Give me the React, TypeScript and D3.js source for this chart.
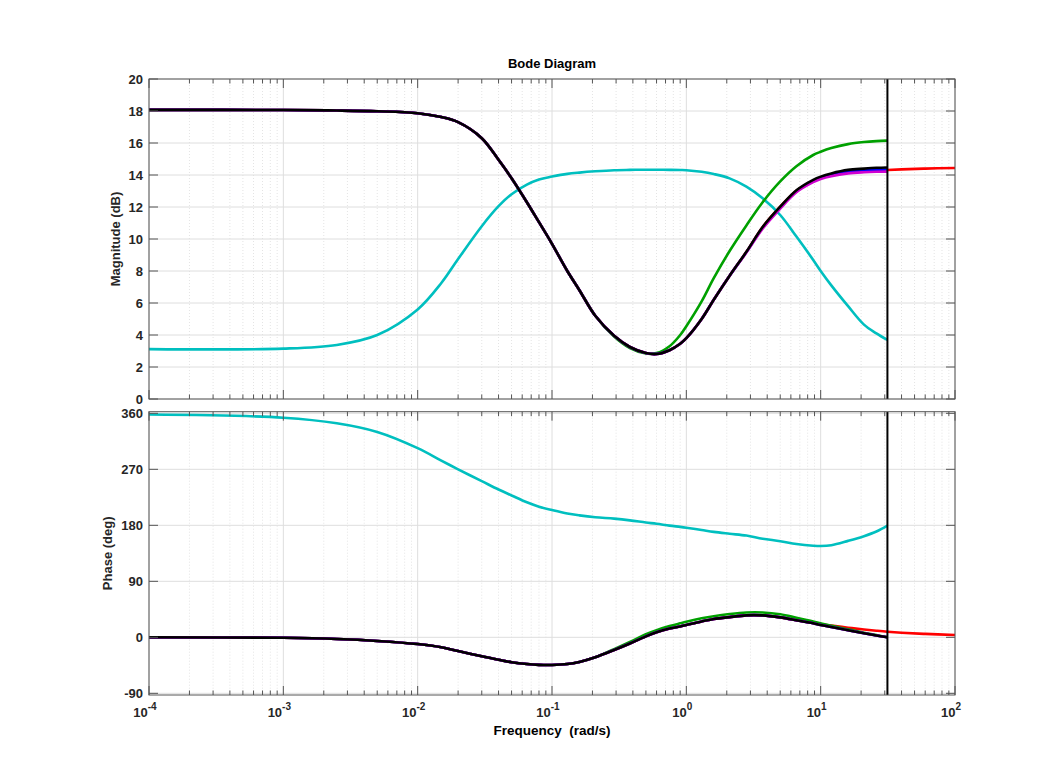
import React from "react";
import * as d3 from "d3";

// frequency grid (rad/s) of the sampled models, stops at the Nyquist frequency
const freqs = [
  1e-4, 1e-3, 0.0025, 0.005, 0.01, 0.015, 0.02, 0.03, 0.04, 0.05, 0.065, 0.08,
  0.1, 0.13, 0.16, 0.21, 0.29, 0.38, 0.5, 0.6, 0.75, 0.9, 1, 1.3, 1.6, 2.1, 2.8,
  3.7, 5, 6.6, 8.8, 10, 12, 16, 21, 26, 31.4,
];
// continuous model keeps going to 100 rad/s
const freqsCont = [
  1e-4, 1e-3, 0.0025, 0.005, 0.01, 0.015, 0.02, 0.03, 0.04, 0.05, 0.065, 0.08,
  0.1, 0.13, 0.16, 0.21, 0.29, 0.38, 0.5, 0.6, 0.75, 0.9, 1, 1.3, 1.6, 2.1, 2.8,
  3.7, 5, 6.6, 8.8, 10, 12, 16, 21, 26, 31.4, 40, 60, 100,
];

// magnitude (dB)
const magBlack = [
  18.07, 18.06, 18.03, 17.98, 17.86, 17.62, 17.3, 16.3, 14.95, 13.8, 12.3, 11.05,
  9.7, 8.0, 6.8, 5.2, 3.95, 3.25, 2.87, 2.81, 3.05, 3.45, 3.8, 5.0, 6.2, 7.7,
  9.2, 10.75, 12.02, 13.05, 13.7, 13.9, 14.1, 14.32, 14.4, 14.45, 14.47,
];
const magGreen = [
  18.07, 18.06, 18.03, 17.98, 17.86, 17.62, 17.3, 16.3, 14.95, 13.8, 12.3, 11.05,
  9.7, 8.0, 6.8, 5.2, 3.9, 3.18, 2.84, 2.87, 3.3, 4.0, 4.55, 6.1, 7.55, 9.25,
  10.85, 12.3, 13.6, 14.55, 15.25, 15.45, 15.68, 15.93, 16.06, 16.12, 16.15,
];
const magBlue = [
  18.07, 18.06, 18.03, 17.98, 17.86, 17.62, 17.3, 16.3, 14.95, 13.8, 12.3, 11.05,
  9.7, 8.0, 6.8, 5.2, 3.95, 3.25, 2.87, 2.81, 3.05, 3.45, 3.8, 5.0, 6.2, 7.7,
  9.18, 10.7, 11.96, 12.98, 13.62, 13.82, 14.0, 14.2, 14.28, 14.32, 14.34,
];
const magMagenta = [
  18.07, 18.06, 18.03, 17.98, 17.86, 17.62, 17.3, 16.3, 14.95, 13.8, 12.3, 11.05,
  9.7, 8.0, 6.8, 5.2, 3.95, 3.25, 2.87, 2.81, 3.05, 3.45, 3.8, 5.0, 6.2, 7.7,
  9.15, 10.65, 11.9, 12.92, 13.55, 13.75, 13.93, 14.1, 14.17, 14.2, 14.21,
];
const magCyan = [
  3.12, 3.15, 3.38, 4.0, 5.6, 7.25, 8.75, 10.8, 12.05, 12.8, 13.4, 13.72, 13.9,
  14.07, 14.15, 14.23, 14.3, 14.32, 14.33, 14.33, 14.32, 14.31, 14.3, 14.2, 14.06,
  13.79, 13.27, 12.54, 11.5, 10.15, 8.69, 8.0, 7.1, 5.8, 4.65, 4.1, 3.69,
];
const magRed = [
  18.07, 18.06, 18.03, 17.98, 17.86, 17.62, 17.3, 16.3, 14.95, 13.8, 12.3, 11.05,
  9.7, 8.0, 6.8, 5.2, 3.95, 3.25, 2.87, 2.81, 3.05, 3.45, 3.8, 5.0, 6.2, 7.7,
  9.2, 10.75, 12.02, 13.02, 13.62, 13.82, 13.98, 14.14, 14.23, 14.28, 14.31,
  14.35, 14.4, 14.44,
];

// phase (deg)
const phBlack = [
  0, -0.8, -2.7, -5.8, -10.8, -16, -22, -30.5, -36, -40, -43, -44.3, -44.5, -43,
  -39.5, -32, -20.4, -10, 1.5, 8, 14, 17.5, 19.8, 25.5, 29.3, 32.5, 35.3, 35.2,
  32, 27.5, 22.5, 19.8, 16.5, 11.3, 6.5, 3, 0,
];
const phGreen = [
  0, -0.8, -2.7, -5.8, -10.8, -16, -22, -30.5, -36, -40, -43, -44.3, -44.5, -43,
  -39.5, -32, -19, -7.5, 5, 11.5, 18, 22.5, 25, 30.5, 34, 37.5, 40, 40, 37, 31.5,
  25.5, 22.5, 18.5, 13, 7.5, 3.5, 0,
];
const phBlue = [
  0, -0.8, -2.7, -5.8, -10.8, -16, -22, -30.5, -36, -40, -43, -44.3, -44.5, -43,
  -39.5, -32, -20.4, -10, 1.5, 8, 14, 17.5, 19.8, 25.5, 29.3, 32.5, 35.3, 35.2,
  32, 27.5, 22.5, 19.8, 16.5, 11.3, 6.5, 3, 0,
];
const phMagenta = [
  0, -0.8, -2.7, -5.8, -10.8, -16, -22, -30.5, -36, -40, -43, -44.3, -44.5, -43,
  -39.5, -32, -20.4, -10, 1.5, 8, 14, 17.5, 19.8, 25.5, 29.3, 32.5, 35.3, 35.2,
  32, 27.5, 22.5, 19.8, 16.5, 11.3, 6.5, 3, 0,
];
const phCyan = [
  358, 353, 344, 330, 304, 284, 270, 251, 237.5, 228, 217, 210, 204.6, 199, 196,
  193, 190.7, 188, 184.5, 182.5, 179.5, 177.5, 176.2, 172.5, 169.5, 166.5, 163.5,
  158.5, 154.5, 150, 147.2, 146.7, 148, 155, 162.5, 170, 179.4,
];
const phRed = [
  0, -0.8, -2.7, -5.8, -10.8, -16, -22, -30.5, -36, -40, -43, -44.3, -44.5, -43,
  -39.5, -32, -20.4, -10, 1.5, 8, 14, 17.5, 19.8, 25.5, 29.3, 32.5, 35.3, 35.2,
  32, 27.5, 23, 21, 18.8, 15.5, 12.6, 10.6, 9, 7.4, 5.5, 3.7,
];

const nyquist = 31.4;
const magTicks = [0, 2, 4, 6, 8, 10, 12, 14, 16, 18, 20];
const phaseTicks = [-90, 0, 90, 180, 270, 360];
const decadeExps = [-4, -3, -2, -1, 0, 1, 2];

const FONT = "'Liberation Sans', Arial, Helvetica, sans-serif";

type Series = { color: string; f: number[]; v: number[] };

const left = 149;
const right = 955;

const x = d3.scaleLog().domain([1e-4, 1e2]).range([left, right]);

const minorFreqs: number[] = [];
decadeExps.slice(0, -1).forEach((e) => {
  for (let m = 2; m <= 9; m++) minorFreqs.push(m * Math.pow(10, e));
});

function Panel({
  id,
  y,
  top,
  bottom,
  ticks,
  series,
  label,
  labelX,
}: {
  id: string;
  y: d3.ScaleLinear<number, number>;
  top: number;
  bottom: number;
  ticks: number[];
  series: Series[];
  label: string;
  labelX: number;
}) {
  const line = (s: Series) =>
    d3
      .line<number>()
      .x((_, i) => x(s.f[i]))
      .y((d) => y(d))
      .curve(d3.curveCatmullRom.alpha(0.5))(s.v) || "";
  const axisCol = "#555555";
  const xn = x(nyquist);
  return (
    <g>
      <defs>
        <clipPath id={id}>
          <rect x={left} y={top} width={right - left} height={bottom - top} />
        </clipPath>
      </defs>
      {/* minor grid */}
      {minorFreqs.map((f) => (
        <line
          key={"mg" + f}
          x1={x(f)}
          x2={x(f)}
          y1={top}
          y2={bottom}
          stroke="#e4e4e4"
          strokeDasharray="1,2"
        />
      ))}
      {/* major grid */}
      {decadeExps.map((e) => (
        <line
          key={"g" + e}
          x1={x(Math.pow(10, e))}
          x2={x(Math.pow(10, e))}
          y1={top}
          y2={bottom}
          stroke="#dedede"
        />
      ))}
      {ticks.map((t) => (
        <line
          key={"yg" + t}
          x1={left}
          x2={right}
          y1={y(t)}
          y2={y(t)}
          stroke="#dedede"
        />
      ))}
      <g clipPath={`url(#${id})`}>
        {series.map((s, i) => (
          <path
            key={i}
            d={line(s)}
            fill="none"
            stroke={s.color}
            strokeWidth={2.6}
            strokeLinejoin="round"
          />
        ))}
        <line x1={xn} x2={xn} y1={top} y2={bottom} stroke="#000" strokeWidth={2} />
      </g>
      {/* frame */}
      <rect
        x={left}
        y={top}
        width={right - left}
        height={bottom - top}
        fill="none"
        stroke={axisCol}
        strokeWidth={1}
      />
      {/* x ticks top/bottom */}
      {minorFreqs.map((f) => (
        <g key={"mt" + f} stroke={axisCol}>
          <line x1={x(f)} x2={x(f)} y1={bottom} y2={bottom - 4.5} />
          <line x1={x(f)} x2={x(f)} y1={top} y2={top + 4.5} />
        </g>
      ))}
      {decadeExps.map((e) => (
        <g key={"t" + e} stroke={axisCol}>
          <line x1={x(Math.pow(10, e))} x2={x(Math.pow(10, e))} y1={bottom} y2={bottom - 9} />
          <line x1={x(Math.pow(10, e))} x2={x(Math.pow(10, e))} y1={top} y2={top + 9} />
        </g>
      ))}
      {/* y ticks and labels */}
      {ticks.map((t) => (
        <g key={"yt" + t}>
          <line x1={left} x2={left + 9} y1={y(t)} y2={y(t)} stroke={axisCol} />
          <line x1={right} x2={right - 9} y1={y(t)} y2={y(t)} stroke={axisCol} />
          <text
            x={left - 6}
            y={y(t)}
            dy="0.36em"
            textAnchor="end"
            fontFamily={FONT}
            fontWeight="bold"
            fontSize={13}
            fill="#262626"
          >
            {t}
          </text>
        </g>
      ))}
      <text
        transform={`translate(${labelX},${(top + bottom) / 2}) rotate(-90)`}
        textAnchor="middle"
        fontFamily={FONT}
        fontWeight="bold"
        fontSize={13}
        fill="#262626"
      >
        {label}
      </text>
    </g>
  );
}

export default function App() {
  const magTop = 79;
  const magBottom = 399;
  const phTop = 411.7;
  const phBottom = 695;
  const yMag = d3.scaleLinear().domain([0, 20]).range([magBottom, magTop]);
  const yPh = d3.scaleLinear().domain([-92.7, 362.6]).range([phBottom, phTop]);

  const magSeries: Series[] = [
    { color: "#ff0000", f: freqsCont, v: magRed },
    { color: "#00bfbf", f: freqs, v: magCyan },
    { color: "#00a000", f: freqs, v: magGreen },
    { color: "#0000ff", f: freqs, v: magBlue },
    { color: "#d000d0", f: freqs, v: magMagenta },
    { color: "#000000", f: freqs, v: magBlack },
  ];
  const phSeries: Series[] = [
    { color: "#ff0000", f: freqsCont, v: phRed },
    { color: "#00bfbf", f: freqs, v: phCyan },
    { color: "#00a000", f: freqs, v: phGreen },
    { color: "#0000ff", f: freqs, v: phBlue },
    { color: "#d000d0", f: freqs, v: phMagenta },
    { color: "#000000", f: freqs, v: phBlack },
  ];

  return (
    <svg
      width={1055}
      height={781}
      style={{ position: "absolute", left: 0, top: 0, background: "#fff" }}
    >
      <rect width={1055} height={781} fill="#fff" />
      <text
        x={(left + right) / 2}
        y={68}
        textAnchor="middle"
        fontFamily={FONT}
        fontWeight="bold"
        fontSize={13}
        fill="#000"
      >
        Bode Diagram
      </text>
      <Panel
        id="clipMag"
        y={yMag}
        top={magTop}
        bottom={magBottom}
        ticks={magTicks}
        series={magSeries}
        label="Magnitude (dB)"
        labelX={120}
      />
      <Panel
        id="clipPh"
        y={yPh}
        top={phTop}
        bottom={phBottom}
        ticks={phaseTicks}
        series={phSeries}
        label="Phase (deg)"
        labelX={112}
      />
      {decadeExps.map((e) => (
        <text
          key={"xl" + e}
          x={x(Math.pow(10, e)) - 4}
          y={717}
          textAnchor="middle"
          fontFamily={FONT}
          fontWeight="bold"
          fontSize={13}
          fill="#262626"
        >
          10
          <tspan dy={-7} fontSize={10}>
            {e}
          </tspan>
        </text>
      ))}
      <text
        x={(left + right) / 2}
        y={735}
        textAnchor="middle"
        fontFamily={FONT}
        fontWeight="bold"
        fontSize={13.5}
        fill="#000"
        style={{ whiteSpace: "pre" }}
      >
        {"Frequency  (rad/s)"}
      </text>
    </svg>
  );
}
